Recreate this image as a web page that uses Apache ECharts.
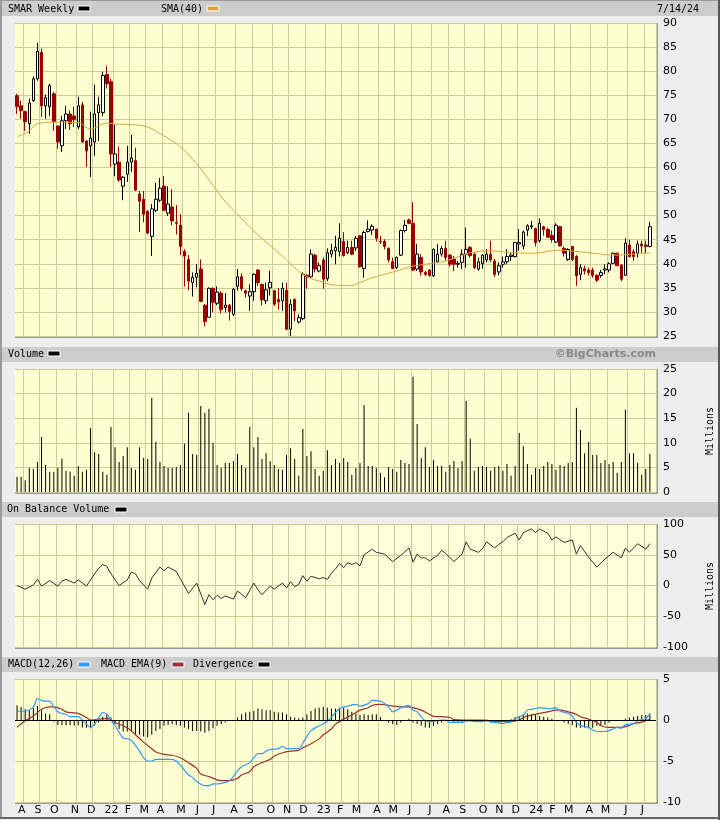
<!DOCTYPE html>
<html><head><meta charset="utf-8">
<script src="https://cdn.jsdelivr.net/npm/echarts/dist/echarts.min.js"></script>
<style>html,body{margin:0;padding:0;background:#eeeeee;}#c{width:720px;height:820px;}</style>
</head><body><div id="c"></div>
<script>
// ---------- DATA ----------
const opens  = [74.9,72.8,71.6,69.1,73.9,78.4,83.9,72.8,72.6,75.3,68.6,64.5,69.7,71.1,70.7,68.4,73.0,65.5,64.5,65.3,71.4,71.4,79.3,77.8,60.7,61.1,56.1,58.6,61.1,61.4,54.5,53.4,50.9,45.7,51.1,53.2,56.1,50.5,51.8,48.6,48.0,42.6,40.9,36.1,37.2,38.9,31.4,28.9,34.9,31.8,33.9,30.9,31.4,29.5,35.3,37.3,34.4,33.3,34.2,38.7,35.7,32.3,35.0,34.4,32.6,32.3,34.5,26.4,32.6,27.9,28.6,37.6,37.3,41.8,38.5,40.8,36.9,42.0,42.7,42.5,44.6,42.3,43.4,43.3,45.8,39.0,46.7,47.0,47.2,44.7,44.6,43.2,40.4,39.2,41.8,46.9,49.1,48.4,38.9,41.3,38.2,38.7,37.5,40.4,42.0,43.2,41.8,41.0,39.9,40.3,42.0,43.4,42.0,38.9,40.0,40.8,42.0,40.6,38.3,39.9,40.4,41.5,41.5,44.1,43.7,47.0,47.7,47.3,44.8,47.7,47.1,45.9,44.5,47.7,43.2,40.9,43.6,41.5,37.8,39.0,38.7,38.7,37.6,37.6,38.7,38.7,40.1,42.2,39.7,37.6,43.9,42.5,42.2,44.1,43.9,43.6];
const closes = [72.6,71.8,69.5,73.4,78.4,84.1,72.8,74.5,77.0,69.5,65.3,69.7,71.1,69.1,69.9,72.8,65.3,63.4,66.1,71.1,73.0,79.1,77.4,62.8,62.8,57.4,58.0,61.1,62.0,55.3,53.0,50.3,46.4,51.4,53.4,55.7,51.1,52.4,48.9,48.4,43.6,41.6,36.4,37.2,38.0,32.2,28.0,34.9,32.0,34.1,30.5,31.4,30.1,34.7,37.3,34.8,33.9,34.2,37.8,36.1,32.5,34.6,36.1,31.6,32.1,34.9,26.4,31.6,30.2,28.8,37.8,37.3,42.0,38.9,39.6,36.8,42.3,42.8,43.4,45.3,41.7,43.4,42.0,45.3,39.4,46.5,47.2,47.8,45.3,44.6,43.6,40.8,39.0,41.3,46.9,48.0,48.4,38.7,42.0,38.3,37.8,37.6,43.0,42.0,43.2,41.3,39.9,39.9,40.1,42.0,43.0,41.7,39.2,40.4,41.8,42.0,40.8,37.8,39.6,40.4,41.5,41.8,44.4,44.4,46.6,47.9,47.9,44.4,48.4,47.1,45.5,45.0,48.0,43.7,42.2,43.0,40.9,37.5,39.2,38.5,38.2,37.6,36.6,38.2,38.9,40.0,42.2,39.6,36.8,44.3,41.5,41.5,44.1,43.7,43.6,47.7];
const lows   = [71.1,70.1,67.6,67.0,73.6,78.0,70.5,70.1,70.7,67.6,63.9,63.2,68.0,67.8,68.4,68.0,65.1,60.1,58.0,62.4,65.5,70.7,76.4,60.1,58.2,57.0,53.2,57.0,59.1,55.1,46.6,48.6,46.1,41.6,50.7,52.8,50.9,49.9,48.0,46.1,41.8,35.3,34.5,33.2,35.1,32.0,27.0,28.9,29.9,31.4,29.7,29.9,28.2,29.1,34.4,34.4,33.0,30.2,32.3,35.4,31.4,31.6,33.4,31.2,30.5,30.2,26.2,25.0,28.1,27.6,28.3,34.8,37.1,38.2,38.2,34.8,36.4,41.3,39.9,41.5,41.5,42.0,41.8,42.7,39.2,37.1,46.5,46.0,44.6,44.1,43.0,40.3,38.9,38.9,41.6,46.5,48.2,38.5,38.5,37.5,37.5,37.3,37.3,40.3,41.5,40.6,39.4,38.5,39.2,38.9,39.2,41.3,38.9,38.5,39.0,40.3,40.4,37.3,37.6,39.2,39.9,40.6,41.3,42.7,43.0,45.8,47.2,43.6,44.4,45.8,45.5,44.4,44.3,43.6,41.5,40.6,40.6,35.4,36.6,37.8,37.6,37.1,36.2,37.1,37.8,38.2,39.9,39.6,36.4,37.6,41.3,40.6,41.3,42.3,42.2,43.4];
const highs  = [75.3,73.9,71.8,74.3,78.9,85.9,84.7,75.1,77.4,75.7,68.8,70.7,72.8,71.8,72.6,74.7,73.6,65.7,71.6,77.2,74.7,79.9,81.1,78.4,68.9,64.3,58.2,64.5,66.8,64.1,55.1,55.1,51.1,52.4,56.8,57.8,58.2,56.1,55.5,52.2,50.3,43.0,41.8,38.2,39.9,40.9,31.6,35.1,35.1,35.3,34.3,33.9,31.6,35.0,38.9,38.0,34.6,35.7,38.0,38.9,35.9,36.1,38.5,34.6,35.0,36.1,36.1,32.6,32.8,29.5,38.2,37.8,43.0,42.0,40.3,41.3,43.2,44.1,45.8,48.4,46.6,44.8,44.8,45.8,45.9,46.9,49.0,48.2,47.2,45.8,45.1,43.4,41.3,41.5,47.1,49.1,49.4,52.8,44.1,42.0,38.5,38.9,43.2,44.1,43.7,44.8,42.0,41.6,40.6,43.0,47.5,43.7,42.3,41.3,42.0,43.0,44.8,41.0,40.3,41.5,43.0,42.3,44.5,47.2,46.9,48.2,48.9,47.5,49.4,47.9,47.5,46.9,48.4,47.9,43.6,43.2,43.7,41.8,39.9,39.6,39.2,39.2,37.8,38.7,39.9,40.3,42.3,42.3,39.9,45.3,45.0,43.0,44.8,44.8,44.8,48.7];
const volumes = [3.1,3.1,2.4,4.9,4.7,6.1,11.2,5.5,4.1,4.1,4.9,6.8,4.3,4.1,3.3,5.3,4.1,4.5,13.0,8.1,7.7,4.1,3.5,13.2,9.1,6.1,7.3,9.1,4.9,4.5,9.1,6.9,6.7,19.1,10.2,6.1,5.3,4.9,4.9,5.1,5.5,9.8,16.1,7.7,7.5,17.5,16.1,16.9,10.0,5.5,4.9,5.9,5.9,6.3,7.7,5.5,4.9,13.2,9.1,11.2,6.7,7.9,6.3,5.5,4.7,4.5,7.5,8.9,6.7,3.3,12.8,7.3,8.3,4.7,3.3,4.3,8.5,5.5,6.7,5.9,6.9,6.1,3.5,4.9,5.9,
  17.7,5.3,5.3,4.9,3.9,3.0,5.1,4.7,4.1,6.5,5.9,5.7,23.4,13.8,6.9,9.1,5.1,6.5,5.3,5.3,4.1,5.5,6.3,4.9,6.3,18.5,10.8,4.3,5.1,5.3,5.1,4.3,5.1,5.3,4.3,5.7,3.3,5.3,12.0,9.3,5.7,3.5,4.9,4.7,5.3,6.1,5.7,4.5,5.5,5.3,5.9,6.1,17.1,12.6,7.9,10.2,7.5,7.5,5.9,6.5,5.7,6.1,3.9,6.1,16.7,7.9,7.9,5.9,3.5,4.7,7.7];
const smaPoints = [[0,66.4],[3,67.6],[5,69.1],[10,69.4],[15,69.3],[18,68.0],[22,69.2],[24,69.0],[28,68.9],[32,68.4],[35,67.0],[40,64.3],[45,59.7],[49,55.1],[52,52.0],[54,50.3],[58,46.8],[65,41.6],[70,37.8],[74,36.4],[79,35.5],[82,35.5],[84,36.1],[87,37.1],[90,37.8],[93,38.5],[97,39.5],[100,39.9],[105,40.6],[110,42.0],[111,42.3],[116,42.7],[121,42.3],[127,42.2],[132,42.8],[135,42.7],[141,42.2],[146,41.8],[151,42.0],[155,42.3]];
const obvPoints = [[0,0],[2,-6],[4,1],[5,10],[6,-1],[8,8],[10,-1],[11,7],[12,10],[14,4],[15,9],[17,-1],[19,19],[20,28],[21,34],[22,31],[23,19],[25,0],[27,9],[28,22],[29,19],[30,8],[32,-6],[33,12],[35,30],[36,24],[37,30],[39,23],[40,11],[42,-13],[44,4],[46,-31],[47,-15],[48,-23],[49,-16],[50,-21],[51,-17],[53,-22],[54,-9],[55,-14],[56,-20],[58,4],[59,-7],[60,-15],[62,-1],[63,-6],[65,4],[66,-4],[67,6],[68,-2],[69,2],[70,16],[71,7],[72,15],[74,11],[75,13],[76,10],[77,20],[78,27],[79,36],[80,29],[81,37],[82,34],[83,37],[84,32],[85,50],[87,59],[88,54],[90,51],[92,39],[94,49],[96,61],[97,38],[98,51],[99,45],[100,45],[101,40],[103,49],[104,57],[105,52],[107,39],[109,51],[110,71],[111,59],[113,54],[114,60],[115,71],[117,61],[118,67],[119,71],[120,78],[122,85],[123,74],[124,86],[126,92],[127,86],[128,92],[130,85],[131,74],[132,79],[134,70],[136,74],[137,51],[138,65],[140,46],[142,30],[144,43],[146,54],[148,45],[149,61],[150,54],[152,68],[154,59],[155,68]];
const macdPoints = [[0,1.0],[1,1.1],[2,1.1],[4,1.6],[5,2.6],[6,2.4],[7,2.3],[8,2.3],[9,1.6],[10,1.0],[11,0.8],[12,0.7],[13,0.4],[15,0.4],[16,0],[17,-0.5],[18,-0.9],[19,-0.5],[20,0.3],[21,0.9],[22,0.7],[23,0.0],[24,-0.7],[25,-1.5],[26,-2.2],[27,-2.3],[28,-2.5],[29,-3.1],[30,-3.8],[31,-4.6],[32,-5.0],[33,-5.0],[34,-4.8],[35,-4.8],[36,-4.8],[38,-4.8],[39,-5.0],[40,-5.5],[41,-6.1],[42,-6.7],[43,-7.0],[44,-7.5],[46,-8.0],[47,-8.0],[48,-7.8],[49,-7.8],[51,-7.6],[52,-7.4],[53,-6.9],[54,-6.2],[55,-5.7],[57,-5.2],[58,-4.6],[59,-4.1],[60,-4.1],[61,-3.8],[62,-3.6],[64,-3.5],[65,-3.2],[66,-3.5],[67,-3.5],[69,-3.5],[70,-2.8],[71,-2.0],[72,-1.3],[74,-0.7],[75,-0.5],[77,0.3],[78,0.9],[79,1.4],[80,1.6],[81,1.7],[83,1.9],[84,1.7],[86,2.0],[87,2.4],[89,2.3],[90,2.0],[91,1.6],[92,1.0],[93,1.2],[94,1.5],[96,1.8],[97,1.2],[98,1.0],[99,0.4],[100,-0.1],[101,-0.2],[103,-0.1],[104,0],[105,0],[106,-0.3],[108,-0.3],[109,-0.3],[110,-0.1],[111,-0.1],[112,-0.2],[114,-0.2],[115,-0.1],[116,-0.25],[117,-0.3],[119,-0.45],[120,-0.3],[121,-0.25],[122,0.2],[124,0.6],[125,1.2],[126,1.3],[127,1.4],[128,1.5],[130,1.4],[131,1.4],[132,1.5],[133,1.1],[135,0.8],[136,0.5],[137,-0.3],[138,-0.65],[140,-0.9],[141,-1.2],[142,-1.4],[143,-1.4],[144,-1.4],[146,-1.1],[147,-0.9],[148,-1.0],[149,-0.6],[151,-0.45],[152,-0.1],[153,0.05],[154,0.2],[155,0.7]];
const signalPoints = [[0,-0.9],[2,-0.1],[4,0.5],[6,1.3],[8,1.6],[9,1.6],[11,1.3],[12,1.0],[15,0.8],[17,0.3],[18,0],[20,0.1],[22,0.2],[23,0],[24,-0.3],[26,-0.7],[28,-1.3],[29,-1.8],[31,-2.7],[33,-3.5],[34,-3.9],[36,-4.2],[38,-4.3],[40,-4.6],[42,-5.2],[44,-5.9],[45,-6.6],[47,-6.9],[49,-7.3],[50,-7.4],[52,-7.4],[54,-7.1],[55,-6.7],[57,-6.3],[58,-5.7],[60,-5.2],[62,-4.8],[63,-4.4],[65,-4.0],[67,-3.8],[69,-3.7],[70,-3.4],[72,-2.9],[74,-2.3],[75,-1.8],[77,-1.1],[78,-0.5],[80,0.1],[82,0.6],[84,1.2],[86,1.5],[87,1.8],[89,1.9],[91,1.8],[92,1.7],[94,1.6],[96,1.6],[97,1.5],[99,1.2],[101,0.7],[102,0.45],[104,0.4],[106,0.3],[107,0.05],[109,0],[111,0],[114,0],[116,-0.1],[119,-0.2],[121,-0.2],[123,0],[124,0.3],[126,0.6],[128,0.8],[130,1.0],[132,1.2],[133,1.2],[135,1.0],[137,0.7],[138,0.4],[140,0.1],[142,-0.3],[143,-0.7],[145,-0.9],[147,-0.9],[148,-0.9],[150,-0.65],[151,-0.45],[153,-0.25],[155,0.1]];
const divergence = [1.8,1.6,1.3,1.2,1.5,1.7,1.2,0.8,0.7,-0.2,-0.6,-0.65,-0.65,-0.65,-0.7,-0.65,-0.9,-0.95,-1.0,-0.7,-0.3,0.4,0.7,0.3,
  -0.5,-1.1,-1.4,-1.4,-1.4,-1.7,-1.8,-2.0,-2.1,-1.8,-1.35,-1.1,-0.7,-0.6,-0.5,-0.6,-0.7,-0.9,-1.1,-1.35,-1.35,-1.4,-1.55,-1.35,-1.0,-0.7,-0.5,-0.3,-0.1,0.0,
  0.3,0.7,0.9,1.0,1.1,1.4,1.3,1.2,1.2,1.0,0.9,0.9,0.7,0.4,0.3,0.2,0.3,0.7,1.1,1.4,1.5,1.6,1.5,1.4,1.4,1.5,1.5,1.3,1.0,0.8,0.6,
  0.7,0.6,0.7,0.7,0.4,0.0,-0.3,-0.5,-0.6,-0.3,0.0,0.15,-0.3,-0.5,-0.7,-0.9,-0.95,-0.7,-0.5,-0.3,-0.1,0.0,-0.25,-0.25,-0.2,-0.1,0.0,-0.1,-0.1,-0.1,-0.1,-0.2,-0.3,-0.3,-0.2,-0.1,0.1,0.3,0.5,0.7,0.8,0.7,0.6,0.5,0.4,0.3,0.15,0.0,-0.1,-0.3,-0.5,-0.6,-0.9,-0.95,-0.95,-1.0,-0.95,-0.7,-0.7,-0.6,-0.3,-0.1,0.0,0.0,0.15,0.3,0.4,0.5,0.6,0.6,0.8];
const monthLetters = ['J','F','M','A','M','J','J','A','S','O','N','D'];
const firstWeek = '2021-07-23';
const weekCount = 157; // 156 weekly bars + one empty slot at the right edge

// ---------- build categories ----------
const dates = [];
const t0 = Date.parse(firstWeek + 'T00:00:00Z');
for (let i = 0; i < weekCount; i++) dates.push(new Date(t0 + i * 7 * 86400000).toISOString().slice(0, 10));
const monthStart = dates.map((d, i) => i > 0 && d.slice(5, 7) !== dates[i - 1].slice(5, 7));
const monthLabel = d => { const m = +d.slice(5, 7); return m === 1 ? d.slice(2, 4) : monthLetters[m - 1]; };
const candles = opens.map((o, i) => [o, closes[i], lows[i], highs[i]]);

const GRID = '#cccc99';
const L = 15, R = 64;
const panels = [
  {top: 23, height: 313, bg: '#ffffd2'},
  {top: 369, height: 123, bg: '#ffffd2'},
  {top: 524, height: 123, bg: '#fefed9'},
  {top: 679, height: 123, bg: '#ffffd2'}
];
const yCfg = [
  {min: 25, max: 90, interval: 5},
  {min: 0, max: 25, interval: 5},
  {min: -100, max: 100, interval: 50},
  {min: -10, max: 5, interval: 5}
];
const labelFont = {fontFamily: 'DejaVu Sans', fontSize: 11, color: '#000'};
const mono = '10px "DejaVu Sans Mono"';

const grids = panels.map(p => ({left: L, right: R, top: p.top, height: p.height, show: true, backgroundColor: p.bg, borderWidth: 0, containLabel: false, outerBoundsMode: 'none'}));
const xAxes = panels.map((p, k) => ({
  gridIndex: k, type: 'category', data: dates, boundaryGap: true,
  axisLine: {show: false}, axisTick: {show: false},
  axisLabel: Object.assign({show: k === 3, interval: (i) => monthStart[i], formatter: v => monthLabel(v), margin: 3, padding: [0, 7, 0, 0]}, labelFont),
  splitLine: {show: true, interval: (i) => monthStart[i], lineStyle: {color: GRID, width: 1}}
}));
const yAxes = yCfg.map((c, k) => ({
  gridIndex: k, type: 'value', position: 'right', min: c.min, max: c.max, interval: c.interval,
  axisLine: {show: false}, axisTick: {show: false},
  axisLabel: Object.assign({margin: 7, showMinLabel: true, showMaxLabel: true}, labelFont),
  splitLine: {show: true, lineStyle: {color: GRID, width: 1}}
}));

function headerBar(y) { return {type: 'rect', shape: {x: 2, y: y, width: 716, height: 15}, style: {fill: '#cccccc'}, silent: true}; }
function txt(x, y, s, extra) { return {type: 'text', x: x, y: y, style: Object.assign({text: s, font: mono, fill: '#000', verticalAlign: 'middle'}, extra || {}), silent: true}; }
function swatch(x, y, c) { return {type: 'rect', shape: {x: x, y: y, width: 12, height: 5}, style: {fill: c, stroke: '#fff', lineWidth: 1}, silent: true}; }
const graphics = [
  {type: 'rect', shape: {x: 1, y: 1, width: 718, height: 817}, style: {fill: 'none', stroke: '#999', lineWidth: 2}, silent: true},
  {type: 'line', shape: {x1: 719, y1: 0, x2: 719, y2: 820}, style: {stroke: '#555', lineWidth: 2}, silent: true},
  {type: 'line', shape: {x1: 0, y1: 818, x2: 720, y2: 818}, style: {stroke: '#666', lineWidth: 2}, silent: true},
  headerBar(1), headerBar(347), headerBar(502), headerBar(657),
  txt(8, 9, 'SMAR Weekly'), swatch(78, 6, '#000'),
  txt(161, 9, 'SMA(40)'), swatch(207, 6, '#d9a441'),
  txt(657, 9, '7/14/24'),
  txt(8, 354, 'Volume'), swatch(48, 351, '#000'),
  {type: 'text', x: 656, y: 354, style: {text: '©BigCharts.com', font: 'bold 11px "DejaVu Sans"', fill: '#888', align: 'right', verticalAlign: 'middle'}, silent: true},
  txt(7, 509, 'On Balance Volume'), swatch(115, 507, '#000'),
  txt(8, 664, 'MACD(12,26)'), swatch(78, 662, '#3399ff'),
  txt(101, 664, 'MACD EMA(9)'), swatch(172, 662, '#993333'),
  txt(193, 664, 'Divergence'), swatch(258, 662, '#000'),
  {type: 'text', x: 710, y: 431, rotation: Math.PI / 2, style: {text: 'Millions', font: mono, fill: '#000', align: 'center', verticalAlign: 'middle'}, silent: true},
  {type: 'text', x: 710, y: 586, rotation: Math.PI / 2, style: {text: 'Millions', font: mono, fill: '#000', align: 'center', verticalAlign: 'middle'}, silent: true}
];
panels.forEach(p => {
  const b = p.top + p.height;
  graphics.push({type: 'line', shape: {x1: L, y1: b + 1, x2: 720 - R + 2, y2: b + 1}, style: {stroke: '#999', lineWidth: 2}, silent: true});
  graphics.push({type: 'line', shape: {x1: 720 - R + 1, y1: p.top, x2: 720 - R + 1, y2: b + 2}, style: {stroke: '#999', lineWidth: 2}, silent: true});
});

const chart = echarts.init(document.getElementById('c'), null, {renderer: 'canvas'});
chart.setOption({
  animation: false,
  backgroundColor: '#eeeeee',
  grid: grids, xAxis: xAxes, yAxis: yAxes,
  graphic: graphics,
  series: [
    {type: 'candlestick', xAxisIndex: 0, yAxisIndex: 0, data: candles, barWidth: 3,
     itemStyle: {color: '#ffffff', color0: '#990000', borderColor: '#000000', borderColor0: '#990000', borderWidth: 1}},
    {type: 'line', xAxisIndex: 0, yAxisIndex: 0, data: smaPoints, smooth: 0.4, showSymbol: false, lineStyle: {color: '#d9a441', width: 1}},
    {type: 'bar', xAxisIndex: 1, yAxisIndex: 1, data: volumes, barWidth: 1, itemStyle: {color: '#000'}},
    {type: 'line', xAxisIndex: 2, yAxisIndex: 2, data: obvPoints, showSymbol: false, lineStyle: {color: '#333', width: 1}},
    {type: 'bar', xAxisIndex: 3, yAxisIndex: 3, data: divergence, barWidth: 1, itemStyle: {color: '#000'},
     markLine: {silent: true, symbol: 'none', label: {show: false}, lineStyle: {color: '#000', width: 1, type: 'solid'}, data: [{yAxis: 0}]}},
    {type: 'line', xAxisIndex: 3, yAxisIndex: 3, data: signalPoints, smooth: 0.3, showSymbol: false, lineStyle: {color: '#993333', width: 1.2}},
    {type: 'line', xAxisIndex: 3, yAxisIndex: 3, data: macdPoints, smooth: 0.3, showSymbol: false, lineStyle: {color: '#3399ff', width: 1.2}}
  ]
});
</script></body></html>
